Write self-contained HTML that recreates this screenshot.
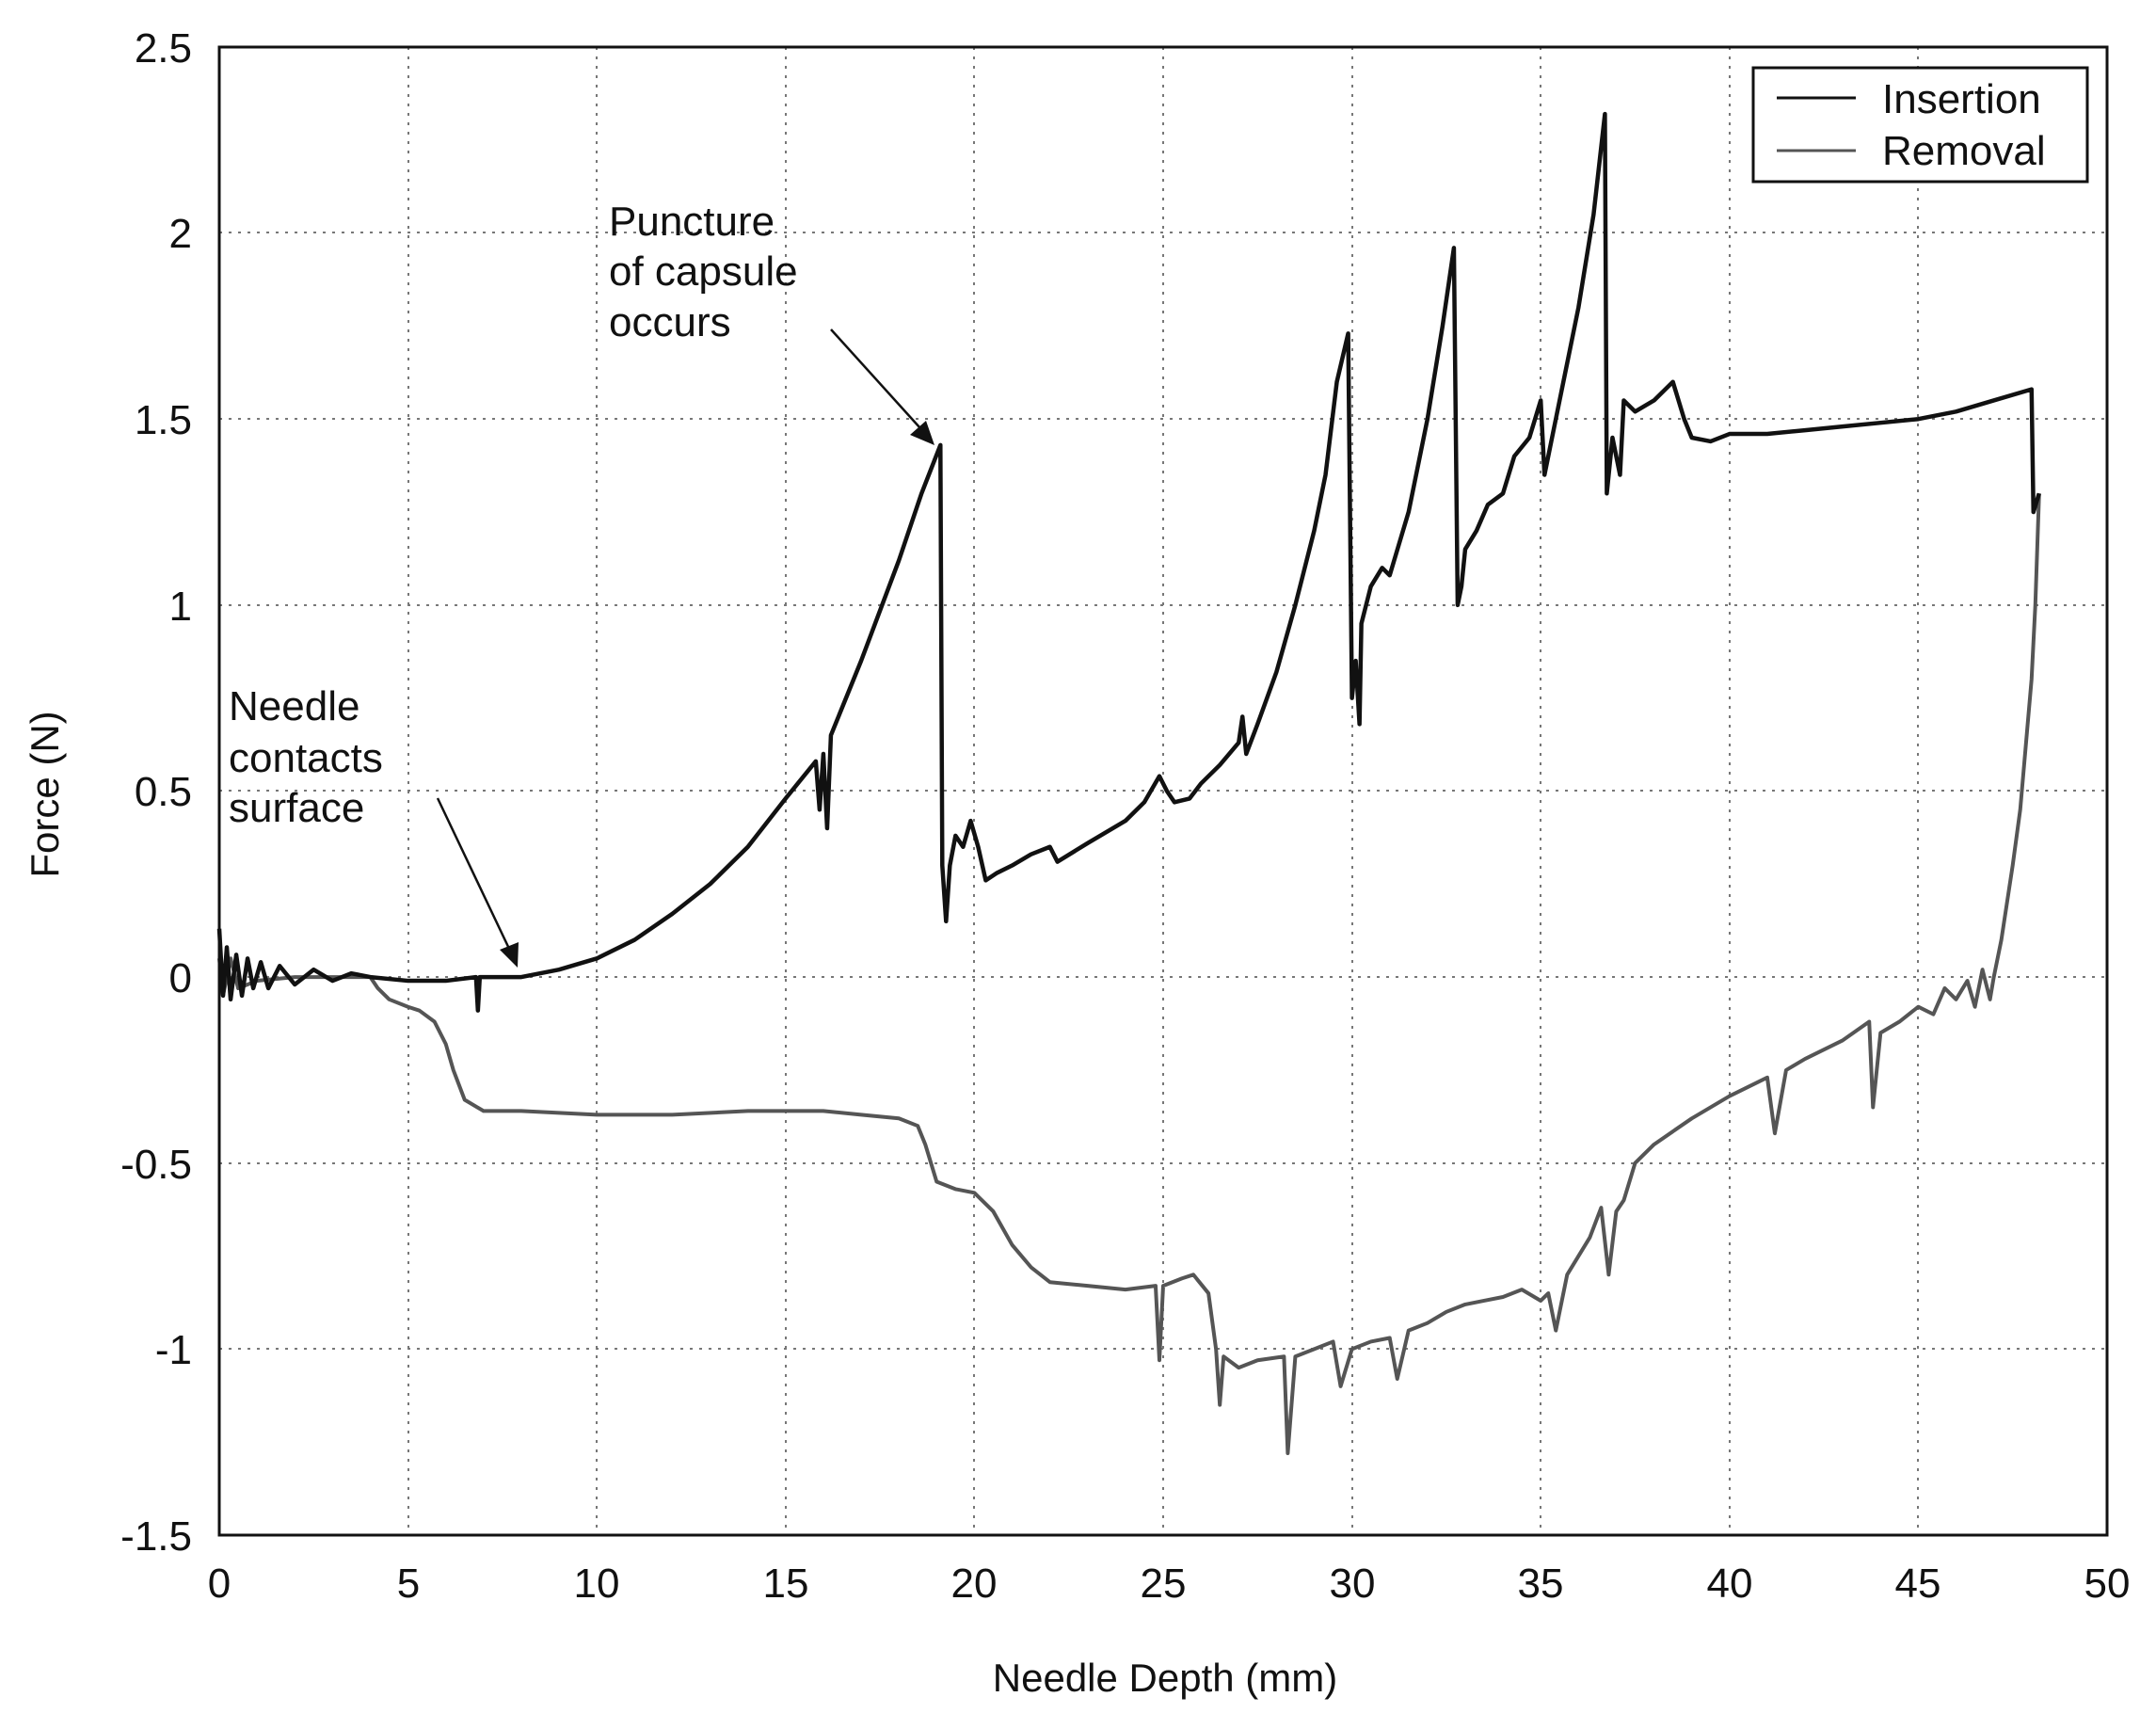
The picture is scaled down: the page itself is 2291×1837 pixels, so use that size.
<!DOCTYPE html>
<html><head><meta charset="utf-8"><style>
html,body{margin:0;padding:0;background:#fff;}
svg{display:block;font-family:"Liberation Sans",Arial,sans-serif;}
</style></head><body>
<svg width="2291" height="1837" viewBox="0 0 2291 1837" xmlns="http://www.w3.org/2000/svg">
<rect width="2291" height="1837" fill="#fff"/>
<g stroke="#777" stroke-width="2" stroke-dasharray="3,7">
<line x1="434" y1="50" x2="434" y2="1631"/><line x1="634" y1="50" x2="634" y2="1631"/>
<line x1="835" y1="50" x2="835" y2="1631"/><line x1="1035" y1="50" x2="1035" y2="1631"/>
<line x1="1236" y1="50" x2="1236" y2="1631"/><line x1="1437" y1="50" x2="1437" y2="1631"/>
<line x1="1637" y1="50" x2="1637" y2="1631"/><line x1="1838" y1="50" x2="1838" y2="1631"/>
<line x1="2038" y1="50" x2="2038" y2="1631"/>
<line x1="233" y1="247" x2="2239" y2="247"/><line x1="233" y1="445" x2="2239" y2="445"/>
<line x1="233" y1="643" x2="2239" y2="643"/><line x1="233" y1="840" x2="2239" y2="840"/>
<line x1="233" y1="1038" x2="2239" y2="1038"/><line x1="233" y1="1236" x2="2239" y2="1236"/>
<line x1="233" y1="1433" x2="2239" y2="1433"/>
</g>
<g transform="translate(233,1038.1) scale(40.12,-395.25)" fill="none" stroke-linejoin="round">
<polyline vector-effect="non-scaling-stroke" stroke="#555" stroke-width="4" points="48.2,1.3 48.1,1.0 48,0.8 47.7,0.45 47.5,0.3 47.2,0.1 47,0.0 46.9,-0.06 46.7,0.02 46.5,-0.08 46.3,-0.01 46,-0.06 45.7,-0.03 45.4,-0.1 45,-0.08 44.5,-0.12 44,-0.15 43.8,-0.35 43.7,-0.12 43,-0.17 42,-0.22 41.5,-0.25 41.2,-0.42 41,-0.27 40,-0.32 39,-0.38 38,-0.45 37.5,-0.5 37.2,-0.6 37,-0.63 36.8,-0.8 36.6,-0.62 36.3,-0.7 36,-0.75 35.7,-0.8 35.4,-0.95 35.2,-0.85 35,-0.87 34.5,-0.84 34,-0.86 33.5,-0.87 33,-0.88 32.5,-0.9 32,-0.93 31.5,-0.95 31.2,-1.08 31,-0.97 30.5,-0.98 30,-1.0 29.7,-1.1 29.5,-0.98 29,-1.0 28.5,-1.02 28.3,-1.28 28.2,-1.02 27.5,-1.03 27,-1.05 26.6,-1.02 26.5,-1.15 26.4,-1.0 26.2,-0.85 25.8,-0.8 25.5,-0.81 25,-0.83 24.9,-1.03 24.8,-0.83 24,-0.84 23,-0.83 22,-0.82 21.5,-0.78 21,-0.72 20.5,-0.63 20,-0.58 19.5,-0.57 19,-0.55 18.7,-0.45 18.5,-0.4 18,-0.38 17,-0.37 16,-0.36 14,-0.36 12,-0.37 10,-0.37 8,-0.36 7,-0.36 6.5,-0.33 6.2,-0.25 6,-0.18 5.7,-0.12 5.3,-0.09 5,-0.08 4.5,-0.06 4.2,-0.03 4,0.0 3,0.0 2,0.0 1,-0.01 0.5,-0.03 0.3,0.05 0.1,-0.05 0,0.05"/>
<polyline vector-effect="non-scaling-stroke" stroke="#111" stroke-width="4.5" points="0,0.13 0.1,-0.05 0.2,0.08 0.3,-0.06 0.45,0.06 0.6,-0.05 0.75,0.05 0.9,-0.03 1.1,0.04 1.3,-0.03 1.6,0.03 2,-0.02 2.5,0.02 3,-0.01 3.5,0.01 4,0.0 5,-0.01 6,-0.01 6.8,0 6.85,-0.09 6.9,0 8,0.0 9,0.02 10,0.05 11,0.1 12,0.17 13,0.25 14,0.35 15,0.48 15.8,0.58 15.9,0.45 16,0.6 16.1,0.4 16.2,0.65 17,0.85 18,1.12 18.6,1.3 19.1,1.43 19.15,0.3 19.25,0.15 19.35,0.3 19.5,0.38 19.7,0.35 19.9,0.42 20.1,0.35 20.3,0.26 20.6,0.28 21,0.3 21.5,0.33 22,0.35 22.2,0.31 23,0.36 24,0.42 24.5,0.47 24.9,0.54 25.1,0.5 25.3,0.47 25.7,0.48 26,0.52 26.5,0.57 27,0.63 27.1,0.7 27.2,0.6 27.5,0.68 28,0.82 28.5,1.0 29,1.2 29.3,1.35 29.6,1.6 29.9,1.73 30,0.75 30.1,0.85 30.2,0.68 30.25,0.95 30.5,1.05 30.8,1.1 31,1.08 31.5,1.25 32,1.5 32.4,1.75 32.7,1.96 32.8,1.0 32.9,1.05 33,1.15 33.3,1.2 33.6,1.27 34,1.3 34.3,1.4 34.7,1.45 35,1.55 35.1,1.35 35.3,1.45 35.6,1.6 36,1.8 36.4,2.05 36.7,2.32 36.75,1.3 36.9,1.45 37.1,1.35 37.2,1.55 37.5,1.52 38,1.55 38.5,1.6 38.8,1.5 39,1.45 39.5,1.44 40,1.46 41,1.46 42,1.47 43,1.48 44,1.49 45,1.5 46,1.52 47,1.55 48,1.58 48.05,1.25 48.2,1.3"/>
</g>
<rect x="233" y="50" width="2006" height="1581" fill="none" stroke="#111" stroke-width="3"/>
<g font-size="44" fill="#111" text-anchor="end">
<text x="204" y="66">2.5</text><text x="204" y="263">2</text><text x="204" y="461">1.5</text>
<text x="204" y="659">1</text><text x="204" y="856">0.5</text><text x="204" y="1054">0</text>
<text x="204" y="1252">-0.5</text><text x="204" y="1449">-1</text><text x="204" y="1647">-1.5</text>
</g>
<g font-size="44" fill="#111" text-anchor="middle">
<text x="233" y="1697">0</text><text x="434" y="1697">5</text><text x="634" y="1697">10</text>
<text x="835" y="1697">15</text><text x="1035" y="1697">20</text><text x="1236" y="1697">25</text>
<text x="1437" y="1697">30</text><text x="1637" y="1697">35</text><text x="1838" y="1697">40</text>
<text x="2038" y="1697">45</text><text x="2239" y="1697">50</text>
</g>
<text x="1238" y="1797" font-size="42" text-anchor="middle" fill="#111">Needle Depth (mm)</text>
<text transform="translate(62,844) rotate(-90)" font-size="42" text-anchor="middle" fill="#111">Force (N)</text>
<rect x="1863" y="72" width="355" height="121" fill="#fff" stroke="#111" stroke-width="3"/>
<line x1="1888" y1="104" x2="1972" y2="104" stroke="#111" stroke-width="3"/>
<line x1="1888" y1="160" x2="1972" y2="160" stroke="#555" stroke-width="3"/>
<text x="2000" y="120" font-size="44" fill="#111">Insertion</text>
<text x="2000" y="175" font-size="44" fill="#111">Removal</text>
<g font-size="44" fill="#111">
<text x="647" y="250">Puncture</text><text x="647" y="303">of capsule</text><text x="647" y="357">occurs</text>
<text x="243" y="765">Needle</text><text x="243" y="820">contacts</text><text x="243" y="873">surface</text>
</g>
<line x1="883" y1="350" x2="978" y2="455" stroke="#111" stroke-width="2.5"/>
<polygon points="993,473 967,462 984,447" fill="#111"/>
<line x1="465" y1="848" x2="542" y2="1010" stroke="#111" stroke-width="2.5"/>
<polygon points="550,1028 531,1009 551,1001" fill="#111"/>
</svg>
</body></html>
